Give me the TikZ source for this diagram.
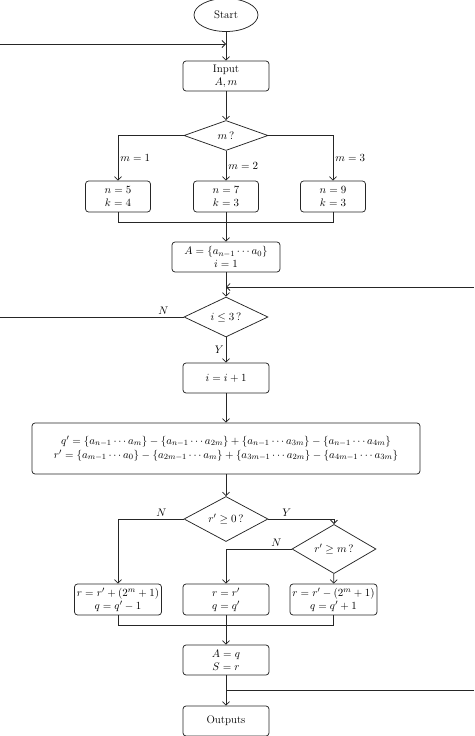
\documentclass[tikz,border=0pt]{standalone}
\usetikzlibrary{shapes.geometric, arrows.meta}
\tikzset{
  blk/.style={draw, rounded corners=3pt, align=center, inner sep=1pt},
  dec/.style={draw, diamond, inner sep=0pt, minimum width=84pt, minimum height=30pt},
  trm/.style={draw, ellipse, inner sep=0pt, minimum width=64pt, minimum height=33pt},
  lnk/.style={-{Straight Barb[length=3.5pt, width=7pt]}},
  lbl/.style={inner sep=2pt}
}
\begin{document}
\begin{tikzpicture}[x=1pt, y=-1pt, line width=0.75pt, draw=black!85,
  font=\fontsize{11}{13}\selectfont]
\useasboundingbox (0,0) rectangle (474,736);
\node[trm] (start) at (226,15){Start};
\node[blk, minimum width=86pt, minimum height=30pt] (input) at (226,76){Input\\$A, m$};
\node[dec] (mq) at (226,135.5){$m\,?$};
\node[blk, minimum width=65pt, minimum height=31pt] (b1) at (118,196.5){$n=5$\\$k=4$};
\node[blk, minimum width=65pt, minimum height=31pt] (b2) at (226,196.5){$n=7$\\$k=3$};
\node[blk, minimum width=65pt, minimum height=31pt] (b3) at (333,196.5){$n=9$\\$k=3$};
\node[blk, minimum width=108pt, minimum height=30pt] (init) at (226,257){$A=\{a_{n-1}\cdots a_0\}$\\$i=1$};
\node[dec] (test) at (226,317){$i\le 3\,?$};
\node[blk, minimum width=86pt, minimum height=30pt] (incr) at (226,378){$i=i+1$};
\node[blk, minimum width=388pt, minimum height=51pt] (calc) at (226,448.5){%
$q'=\{a_{n-1}\cdots a_m\}-\{a_{n-1}\cdots a_{2m}\}+\{a_{n-1}\cdots a_{3m}\}-\{a_{n-1}\cdots a_{4m}\}$\\[1pt]
$r'=\{a_{m-1}\cdots a_0\}-\{a_{2m-1}\cdots a_m\}+\{a_{3m-1}\cdots a_{2m}\}-\{a_{4m-1}\cdots a_{3m}\}$};
\node[dec] (r0) at (226,519){$r'\ge 0\,?$};
\node[dec] (rm) at (334,549){$r'\ge m\,?$};
\node[blk, minimum width=87pt, minimum height=31pt] (c1) at (118,599.5){$r=r'+(2^m+1)$\\$q=q'-1$};
\node[blk, minimum width=86pt, minimum height=31pt] (c2) at (226,599.5){$r=r'$\\$q=q'$};
\node[blk, minimum width=87pt, minimum height=31pt] (c3) at (333.5,599.5){$r=r'-(2^m+1)$\\$q=q'+1$};
\node[blk, minimum width=86pt, minimum height=30pt] (upd) at (226,660){$A=q$\\$S=r$};
\node[blk, minimum width=86pt, minimum height=30pt] (out) at (226,721){Outputs};
% loose ends at the picture's edges
\coordinate (inL) at (0,44);
\coordinate (exL) at (0,317);
\coordinate (inR) at (474,287);
\coordinate (exR) at (474,690);
\coordinate (j1) at (0,222);
\coordinate (j2) at (0,625);
% top part
\draw[lnk] (inL) -- (start.south |- inL);
\draw[lnk] (start) -- (input);
\draw[lnk] (input) -- (mq);
\draw[lnk] (mq.west) -| node[lbl, pos=0.75, right]{$m=1$} (b1);
\draw[lnk] (mq) -- node[lbl, pos=0.5, right]{$m=2$} (b2);
\draw[lnk] (mq.east) -| node[lbl, pos=0.75, right]{$m=3$} (b3);
\draw (b1.south) |- (b1.south |- j1) -| (b3.south);
\draw[lnk] (b2) -- (init);
\draw[lnk] (init) -- (test);
\draw[lnk] (inR) -- (test.north |- inR);
\draw (test.west) -- node[lbl, pos=0.11, above]{$N$} (exL);
\draw[lnk] (test) -- node[lbl, pos=0.5, left]{$Y$} (incr);
\draw[lnk] (incr) -- (calc);
% remainder
\draw[lnk] (calc) -- (r0);
\draw[lnk] (r0.west) -| node[lbl, pos=0.17, above]{$N$} (c1);
\draw[lnk] (r0.east) -| node[lbl, pos=0.14, above]{$Y$} (rm);
\draw[lnk] (rm.west) -| node[lbl, pos=0.06, above left]{$N$} (c2);
\draw[lnk] (rm) -- (c3);
\draw (c1.south) |- (c1.south |- j2) -| (c3.south);
\draw[lnk] (c2) -- (upd);
\draw[lnk] (upd) -- (out);
\draw (exR) -- (upd.south |- exR);
\end{tikzpicture}
\end{document}
